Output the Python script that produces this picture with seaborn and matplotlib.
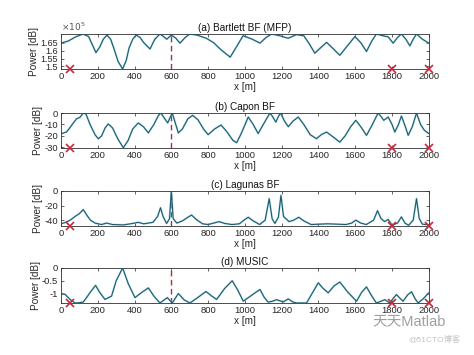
import seaborn as sns
import matplotlib.pyplot as plt
import matplotlib.ticker as mticker
import numpy as np
import pandas as pd

# range axis [m]
x_a = [0, 40, 80, 120, 150, 170, 190, 210, 230, 250, 270, 290, 310, 335, 355, 370, 390,
       408, 430, 450, 484, 510, 538, 560, 575, 600, 625, 647, 675, 700, 740, 790, 830,
       870, 920, 950, 990, 1040, 1082, 1115, 1145, 1190, 1235, 1280, 1320, 1350, 1380,
       1410, 1444, 1480, 1516, 1560, 1598, 1630, 1661, 1690, 1715, 1750, 1779, 1806,
       1830, 1851, 1875, 1897, 1915, 1933, 1965, 2000]
p_a = [1.648, 1.662, 1.688, 1.706, 1.690, 1.639, 1.588, 1.622, 1.673, 1.699, 1.673,
       1.606, 1.533, 1.484, 1.540, 1.617, 1.673, 1.699, 1.684, 1.651, 1.611, 1.673,
       1.706, 1.688, 1.673, 1.699, 1.679, 1.648, 1.684, 1.706, 1.699, 1.679, 1.651,
       1.606, 1.559, 1.617, 1.695, 1.673, 1.648, 1.684, 1.706, 1.695, 1.679, 1.702,
       1.695, 1.644, 1.584, 1.617, 1.653, 1.613, 1.571, 1.635, 1.690, 1.651, 1.595,
       1.662, 1.706, 1.695, 1.688, 1.648, 1.684, 1.706, 1.673, 1.631, 1.673, 1.706,
       1.673, 1.648]
p_a = [v * 1e5 for v in p_a]

x_b = [0, 31, 50, 67, 85, 103, 121, 136, 158, 185, 203, 221, 240, 257, 280, 310, 339,
       365, 390, 420, 448, 475, 505, 530, 543, 560, 580, 593, 605, 620, 638, 660, 690,
       716, 745, 775, 800, 835, 870, 900, 935, 955, 980, 1018, 1045, 1072, 1100, 1136,
       1150, 1168, 1182, 1194, 1215, 1236, 1262, 1290, 1320, 1355, 1389, 1415, 1444,
       1480, 1516, 1545, 1575, 1603, 1630, 1661, 1690, 1724, 1740, 1755, 1779, 1800,
       1815, 1835, 1851, 1868, 1888, 1910, 1933, 1955, 1975, 2000]
p_b = [-18.3, -16.5, -12.5, -8.7, -5, -3.8, 0, -1, -10, -19, -22.6, -20, -13, -9.6, -13,
       -23, -30.5, -24, -14, -8.7, -12, -17.4, -10, -2, 0, -4, -8.7, -4, 0, -8, -17.4,
       -14, -5, -2, -6, -14, -19, -14, -10.5, -16, -24, -26, -18, -3.5, -10, -18, -10,
       0, -3, -8, -3, 0, -7, -12, -7, -3.5, -10, -19, -22.5, -19, -16.7, -21, -25.5,
       -20, -12, -6.4, -12, -19.6, -11, 0, -3, -6.4, -3.5, -10, -16.7, -10, -2.6, -10,
       -19.6, -12, 0, -10, -15, -18]

x_c = [0, 25, 50, 76, 100, 121, 140, 160, 185, 220, 248, 280, 340, 390, 420, 450, 500,
       525, 541, 555, 574, 590, 600, 610, 630, 660, 690, 710, 735, 770, 800, 830, 860,
       890, 930, 970, 995, 1018, 1045, 1080, 1110, 1132, 1148, 1163, 1182, 1196, 1210,
       1240, 1265, 1293, 1320, 1360, 1450, 1550, 1580, 1603, 1630, 1660, 1700, 1721,
       1740, 1760, 1779, 1800, 1830, 1851, 1870, 1890, 1915, 1933, 1948, 1965, 2000]
p_c = [-45, -43, -40, -35, -31, -25.5, -33, -40, -44, -46, -44, -46, -46.5, -44.5, -43,
       -45, -43, -35, -23, -35, -44.5, -38, 0, -38, -44, -41, -36, -33, -39, -45, -46,
       -44, -42, -44.5, -46, -45, -40, -36, -41, -46, -40, -10.5, -38, -44.5, -36, -6,
       -35, -42, -40, -36, -41, -46, -45, -46, -44, -40, -44, -46, -40, -27, -38, -42,
       -39, -47, -44, -35.5, -44, -47, -40, -10.5, -38, -45.5, -46.5]

x_d = [0, 22, 49, 76, 100, 121, 140, 158, 188, 210, 239, 275, 300, 335, 365, 402, 440,
       475, 505, 538, 578, 605, 638, 670, 701, 745, 788, 820, 846, 890, 931, 960, 991,
       1040, 1082, 1105, 1127, 1150, 1172, 1208, 1236, 1260, 1281, 1335, 1365, 1399,
       1425, 1453, 1485, 1516, 1560, 1607, 1635, 1661, 1690, 1715, 1740, 1761, 1788,
       1805, 1824, 1845, 1860, 1885, 1906, 1925, 1942, 1970, 2000]
p_d = [-1.0, -1.03, -1.23, -1.37, -1.36, -1.33, -1.15, -0.96, -0.68, -0.95, -1.23, -1.1,
       -0.5, 0.0, -0.6, -1.16, -0.95, -0.78, -1.1, -1.37, -1.16, -1.37, -1.0, -1.25,
       -1.37, -1.15, -0.92, -1.1, -1.23, -0.8, -0.5, -0.85, -1.3, -1.05, -0.84, -1.15,
       -1.34, -1.3, -1.24, -1.33, -1.21, -1.33, -1.37, -1.37, -1.0, -0.58, -0.8, -0.97,
       -0.7, -0.55, -0.95, -1.3, -0.95, -0.74, -1.1, -1.37, -1.3, -1.24, -1.37, -1.2,
       -1.04, -1.2, -1.3, -1.05, -0.93, -1.2, -1.37, -1.2, -0.97]

titles = ["(a) Bartlett BF (MFP)", "(b) Capon BF", "(c) Lagunas BF", "(d) MUSIC"]
y_lims = [(1.484e5, 1.706e5), (-30.7, 0), (-48, 0), (-1.37, 0)]
y_ticks = [[1.5e5, 1.55e5, 1.6e5, 1.65e5], [-30, -20, -10, 0], [-40, -20, 0], [-1, -0.5, 0]]
true_source = 600
marker_x = [50, 1800, 2000]

sns.set_theme(style="ticks")
plt.rcParams["font.family"] = ["Liberation Sans", "DejaVu Sans"]
plt.rcParams["axes.edgecolor"] = "#303030"
plt.rcParams["axes.linewidth"] = 0.6

fig = plt.figure(figsize=(4.74, 3.55), dpi=100)
bottoms = [0.8056, 0.583, 0.3634, 0.1465]
panels = [(x_a, p_a), (x_b, p_b), (x_c, p_c), (x_d, p_d)]

for i, (xs, ps) in enumerate(panels):
    ax = fig.add_axes([0.1287, bottoms[i], 0.776, 0.0986])
    df = pd.DataFrame({"x": xs, "p": ps})
    ax.axvline(true_source, color="#a5343c", lw=1.0, ls=(0, (4, 2.5)), zorder=1)
    # light halo under the dark trace, like the jpeg'd matlab lines
    sns.lineplot(data=df, x="x", y="p", ax=ax, color="#7fd4e2", lw=1.5, alpha=0.6, zorder=2)
    sns.lineplot(data=df, x="x", y="p", ax=ax, color="#22566a", lw=0.8, zorder=3)
    lo = y_lims[i][0]
    ax.plot(marker_x, [lo] * len(marker_x), ls="none", marker="x", ms=5.5, mew=1.2,
            color="#c8283a", clip_on=False, zorder=5)

    ax.set_xlim(0, 2000)
    ax.set_ylim(*y_lims[i])
    ax.set_xticks(np.arange(0, 2001, 200))
    ax.set_yticks(y_ticks[i])
    if i == 0:
        ax.yaxis.set_major_formatter(mticker.FuncFormatter(lambda v, _: f"{v / 1e5:g}"))
        ax.text(0.0, 1.03, r"$\times10^5$", transform=ax.transAxes, fontsize=6.5,
                color="#555555", va="bottom", ha="left")
    else:
        ax.yaxis.set_major_formatter(mticker.FuncFormatter(lambda v, _: f"{v:g}"))
    ax.tick_params(direction="in", length=2.5, width=0.5, top=True, right=True,
                   labelsize=6.8, pad=2, colors="#262626")
    ax.tick_params(axis="y", labelsize=6.5 if i == 0 else 6.8)
    ax.set_title(titles[i], fontsize=7.2, pad=2.5, color="#111111")
    ax.set_xlabel("x [m]", fontsize=7.2, labelpad=1)
    ax.set_ylabel("Power [dB]", fontsize=7.2, labelpad=1)
    for s in ax.spines.values():
        s.set_visible(True)

# watermark
fig.text(0.785, 0.083, "天天Matlab", fontsize=10.5, color="#a0a0a0",
         family=["Liberation Sans", "Noto Sans CJK SC"])
fig.text(0.862, 0.038, "@51CTO博客", fontsize=6, color="#c4c4c4",
         family=["Liberation Sans", "Noto Sans CJK SC"])

fig.savefig("out.png", dpi=100)
